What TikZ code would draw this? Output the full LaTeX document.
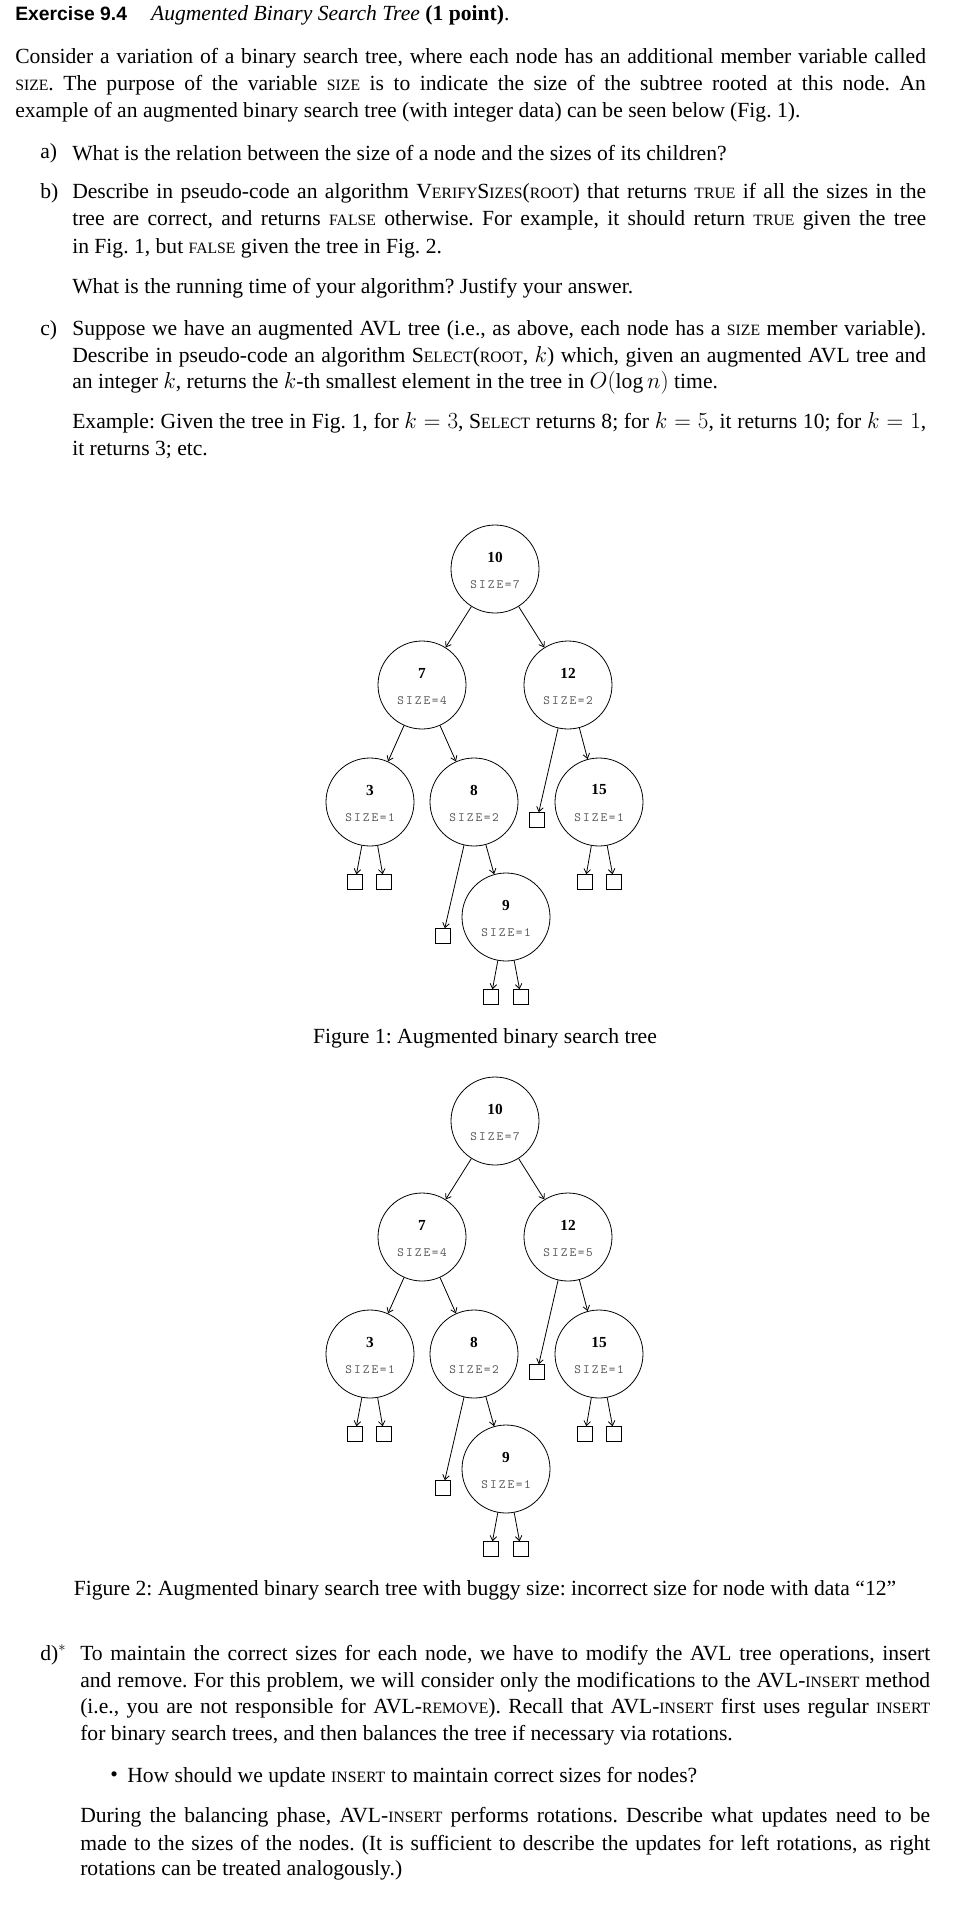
\documentclass[tikz,border=0pt]{standalone}
\usepackage{fontspec}
\setmainfont{Liberation Serif}
\newfontfamily\hdfont{Liberation Sans}
\usetikzlibrary{arrows.meta}
\frenchspacing
\newcommand\fsc[1]{{\fontsize{11.8}{13}\selectfont #1}}
\newcommand\sz[1]{{\color{black!65}\ttfamily\fontsize{9.5}{11}\selectfont S\kern1.6pt I\kern1.6pt Z\kern1.6pt E\kern1.2pt=\kern1.2pt#1}}
\begin{document}
\begin{tikzpicture}[x=0.75pt,y=-0.75pt,
  txt/.style={anchor=west,inner sep=0pt,font=\fontsize{16.2}{19}\selectfont},
  tn/.style={circle,draw,line width=0.6pt,minimum size=66pt,inner sep=0pt},
  lf/.style={draw,line width=0.6pt,minimum size=11pt,inner sep=0pt},
  ed/.style={line width=0.6pt,-{Straight Barb[length=3.5pt,width=5pt]}}]
\useasboundingbox (0,0) rectangle (957,1923);
\fill[white] (0,0) rectangle (957,1923);
% text
\node[txt] (h) at (15,15) {{\hdfont\bfseries\fontsize{14.5}{17}\selectfont Exercise 9.4}\hspace{18pt}\textit{Augmented Binary Search Tree} \textbf{(1 point)}.};
\node[txt] (p1) at (15,58) {\hbox to 683pt{Consider a variation of a binary search tree, where each node has an additional member variable called}};
\node[txt] (p2) at (15,85) {\hbox to 683pt{\fsc{SIZE}. The purpose of the variable \fsc{SIZE} is to indicate the size of the subtree rooted at this node. An}};
\node[txt] (p3) at (15,112) {example of an augmented binary search tree (with integer data) can be seen below (Fig. 1).};
\node[txt] (la) at (40,153) {a)};
\node[txt] (a1) at (72,153) {What is the relation between the size of a node and the sizes of its children?};
\node[txt] (lb) at (40,193) {b)};
\node[txt] (b1) at (72,193) {\hbox to 640.5pt{Describe in pseudo-code an algorithm V\fsc{ERIFY}S\fsc{IZES}(\fsc{ROOT}) that returns \fsc{TRUE} if all the sizes in the}};
\node[txt] (b2) at (72,220) {\hbox to 640.5pt{tree are correct, and returns \fsc{FALSE} otherwise. For example, it should return \fsc{TRUE} given the tree}};
\node[txt] (b3) at (72,248) {in Fig. 1, but \fsc{FALSE} given the tree in Fig. 2.};
\node[txt] (b4) at (72,288) {What is the running time of your algorithm? Justify your answer.};
\node[txt] (lc) at (40,330) {c)};
\node[txt] (c1) at (72,330) {\hbox to 640.5pt{Suppose we have an augmented AVL tree (i.e., as above, each node has a \fsc{SIZE} member variable).}};
\node[txt] (c2) at (72,357) {\hbox to 640.5pt{Describe in pseudo-code an algorithm S\fsc{ELECT}(\fsc{ROOT}, $k$) which, given an augmented AVL tree and}};
\node[txt] (c3) at (72,383) {an integer $k$, returns the $k$-th smallest element in the tree in $O(\log n)$ time.};
\node[txt] (c4) at (72,423) {\hbox to 640.5pt{Example: Given the tree in Fig. 1, for $k=3$, S\fsc{ELECT} returns 8; for $k=5$, it returns 10; for $k=1$,}};
\node[txt] (c5) at (72,450) {it returns 3; etc.};
% trees
\foreach \off/\tw/\f in {0/2/1,552/5/2}{
\begin{scope}[yshift=-\off*0.75pt]
\node[tn] (r\f) at (495,569) {};
\node[tn] (s\f) at (422,685) {};
\node[tn] (t\f) at (568,685) {};
\node[tn] (a\f) at (370,802) {};
\node[tn] (b\f) at (474,802) {};
\node[tn] (c\f) at (599,802) {};
\node[tn] (d\f) at (506,917) {};
\foreach \n/\v/\s in {r/10/7,s/7/4,t/12/\tw,a/3/1,b/8/2,c/15/1,d/9/1}{
  \node[font=\bfseries\fontsize{11.5}{13}\selectfont] at ([yshift=9pt]\n\f.center) {\v};
  \node at ([yshift=-12pt]\n\f.center) {\sz{\s}};
}
\node[lf] (q1\f) at (537,820) {};
\node[lf] (q2\f) at (355,882) {};
\node[lf] (q3\f) at (384,882) {};
\node[lf] (q4\f) at (443,936) {};
\node[lf] (q5\f) at (585,882) {};
\node[lf] (q6\f) at (614,882) {};
\node[lf] (q7\f) at (491,997) {};
\node[lf] (q8\f) at (521,997) {};
\draw[ed] (r\f) -- (s\f);
\draw[ed] (r\f) -- (t\f);
\draw[ed] (s\f) -- (a\f);
\draw[ed] (s\f) -- (b\f);
\draw[ed] (t\f) -- (q1\f);
\draw[ed] (t\f) -- (c\f);
\draw[ed] (a\f) -- (q2\f);
\draw[ed] (a\f) -- (q3\f);
\draw[ed] (b\f) -- (q4\f);
\draw[ed] (b\f) -- (d\f);
\draw[ed] (c\f) -- (q5\f);
\draw[ed] (c\f) -- (q6\f);
\draw[ed] (d\f) -- (q7\f);
\draw[ed] (d\f) -- (q8\f);
\end{scope}}
\node[txt,anchor=center] (f1) at (485,1038) {Figure 1: Augmented binary search tree};
\node[txt,anchor=center] (f2) at (485,1590) {Figure 2: Augmented binary search tree with buggy size: incorrect size for node with data “12”};
\node[txt] (ld) at (40,1655) {d)$^*$};
\node[txt] (d1) at (80,1655) {\hbox to 637.5pt{To maintain the correct sizes for each node, we have to modify the AVL tree operations, insert}};
\node[txt] (d2) at (80,1682) {\hbox to 637.5pt{and remove. For this problem, we will consider only the modifications to the AVL-\fsc{INSERT} method}};
\node[txt] (d3) at (80,1708) {\hbox to 637.5pt{(i.e., you are not responsible for AVL-\fsc{REMOVE}). Recall that AVL-\fsc{INSERT} first uses regular \fsc{INSERT}}};
\node[txt] (d4) at (80,1735) {for binary search trees, and then balances the tree if necessary via rotations.};
\node[txt] (bul) at (110,1777) {\textbullet};
\node[txt] (e1) at (127,1777) {How should we update \fsc{INSERT} to maintain correct sizes for nodes?};
\node[txt] (g1) at (80,1817) {\hbox to 637.5pt{During the balancing phase, AVL-\fsc{INSERT} performs rotations. Describe what updates need to be}};
\node[txt] (g2) at (80,1845) {\hbox to 637.5pt{made to the sizes of the nodes. (It is sufficient to describe the updates for left rotations, as right}};
\node[txt] (g3) at (80,1870) {rotations can be treated analogously.)};
\end{tikzpicture}
\end{document}
